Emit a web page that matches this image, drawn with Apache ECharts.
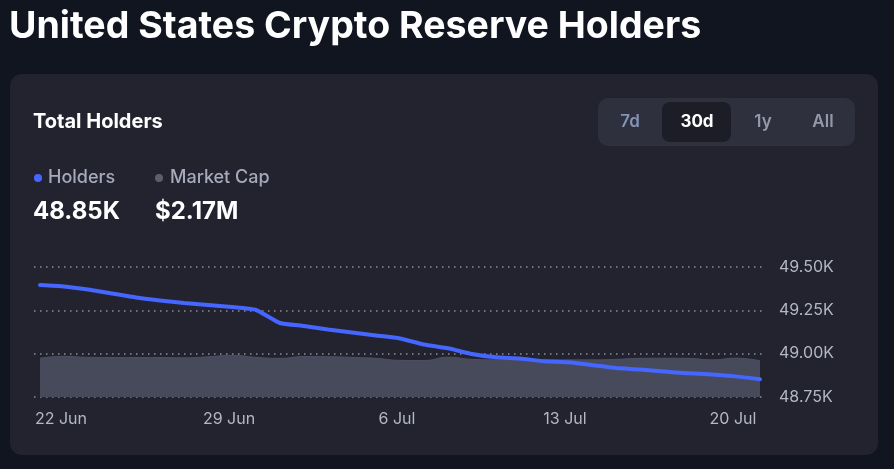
<!DOCTYPE html>
<html>
<head>
<meta charset="utf-8">
<script src="https://cdn.jsdelivr.net/npm/echarts@6/dist/echarts.min.js"></script>
<style>
  html, body { margin: 0; padding: 0; background: #11151f; }
  #myChart { width: 894px; height: 469px; }
</style>
</head>
<body>
<div id="myChart"></div>
<script>
// daily points, 21 Jun 2025 -> 21 Jul 2025
const startDay = [2025, 5, 21];
const dayCount = 31;
const holders = [49396, 49388, 49370, 49347, 49324, 49307, 49292, 49281, 49269, 49252,
  49177, 49160, 49139, 49122, 49105, 49088, 49053, 49031, 48998, 48979,
  48972, 48956, 48950, 48935, 48917, 48909, 48897, 48887, 48880, 48869, 48852];
// market cap in $M
const marketCap = [2.32, 2.43, 2.37, 2.36, 2.36, 2.36, 2.34, 2.40, 2.49, 2.37,
  2.31, 2.42, 2.41, 2.37, 2.31, 2.19, 2.18, 2.38, 2.25, 2.22,
  2.22, 2.22, 2.22, 2.22, 2.25, 2.31, 2.32, 2.31, 2.22, 2.32, 2.17];
const tickDays = [[2025, 5, 22], [2025, 5, 29], [2025, 6, 6], [2025, 6, 13], [2025, 6, 20]];
const months = ['Jan', 'Feb', 'Mar', 'Apr', 'May', 'Jun', 'Jul', 'Aug', 'Sep', 'Oct', 'Nov', 'Dec'];
const ranges = ['7d', '30d', '1y', 'All'];

const dates = [];
for (let i = 0; i < dayCount; i++) {
  dates.push(new Date(startDay[0], startDay[1], startDay[2] + i, 3).getTime());
}
const tickValues = tickDays.map(d => new Date(d[0], d[1], d[2]).getTime());
const hour = 3600 * 1000;

const myChart = echarts.init(document.getElementById('myChart'));
const font = 'Inter';

const lastHolders = (holders[holders.length - 1] / 1000).toFixed(2) + 'K';
const lastCap = '$' + marketCap[marketCap.length - 1].toFixed(2) + 'M';

const rangeX = [630, 697, 763, 823];
const rangeEls = ranges.map((r, i) => ({
  type: 'text',
  z: 12,
  style: {
    text: r,
    x: rangeX[i],
    y: 122,
    align: 'center',
    verticalAlign: 'middle',
    font: (r === '30d' ? '700' : '600') + ' 17px ' + font,
    fill: r === '30d' ? '#ffffff' : (r === '7d' ? '#8591b5' : '#9598aa')
  }
}));

myChart.setOption({
  backgroundColor: '#11151f',
  animation: false,
  graphic: [
    {
      type: 'text',
      style: {
        text: 'United States Crypto Reserve Holders',
        x: 9, y: 27,
        verticalAlign: 'middle',
        font: '700 37.5px ' + font,
        fill: '#ffffff'
      }
    },
    {
      type: 'rect',
      z: -10,
      shape: { x: 10, y: 74, width: 868, height: 381, r: 12 },
      style: { fill: '#22232f' }
    },
    {
      type: 'text',
      style: {
        text: 'Total Holders', x: 33, y: 122,
        verticalAlign: 'middle', font: '700 20px ' + font, fill: '#ffffff'
      }
    },
    {
      type: 'rect', z: 10,
      shape: { x: 598, y: 98, width: 257, height: 48, r: 10 },
      style: { fill: '#2e303e' }
    },
    {
      type: 'rect', z: 11,
      shape: { x: 662, y: 102, width: 69, height: 40, r: 8 },
      style: { fill: '#1c1d27' }
    },
    ...rangeEls,
    {
      type: 'circle',
      shape: { cx: 38, cy: 178, r: 4 },
      style: { fill: '#4566ff' }
    },
    {
      type: 'text',
      style: {
        text: 'Holders', x: 48, y: 178,
        verticalAlign: 'middle', font: '500 18px ' + font, fill: '#a6aabb'
      }
    },
    {
      type: 'circle',
      shape: { cx: 159, cy: 178, r: 4 },
      style: { fill: '#5b5e6c' }
    },
    {
      type: 'text',
      style: {
        text: 'Market Cap', x: 170, y: 178,
        verticalAlign: 'middle', font: '500 18px ' + font, fill: '#a6aabb'
      }
    },
    {
      type: 'text',
      style: {
        text: lastHolders, x: 33, y: 212,
        verticalAlign: 'middle', font: '700 24px ' + font, fill: '#ffffff'
      }
    },
    {
      type: 'text',
      style: {
        text: lastCap, x: 155, y: 212,
        verticalAlign: 'middle', font: '700 24px ' + font, fill: '#ffffff'
      }
    }
  ],
  grid: { left: 34, right: 130, top: 267, bottom: 72 },
  xAxis: {
    type: 'value',
    min: dates[0] - 6 * hour,
    max: dates[dates.length - 1] + 4 * hour,
    axisLine: { show: false },
    axisTick: { show: false },
    splitLine: { show: false },
    axisLabel: {
      customValues: tickValues,
      color: '#b4b7c4',
      fontFamily: font,
      fontSize: 16,
      margin: 14,
      formatter: v => {
        const d = new Date(v);
        return d.getDate() + ' ' + months[d.getMonth()];
      }
    }
  },
  yAxis: [
    {
      type: 'value',
      position: 'right',
      min: 48750,
      max: 49500,
      interval: 250,
      axisLine: { show: false },
      axisTick: { show: false },
      axisLabel: {
        color: '#b4b7c4',
        fontFamily: font,
        fontSize: 16,
        margin: 15,
        formatter: v => (v / 1000).toFixed(2) + 'K'
      },
      splitLine: {
        lineStyle: { color: '#8a8d99', width: 1.5, type: [1.5, 4.5] }
      }
    },
    {
      type: 'value',
      min: 0,
      max: 7.77,
      show: false,
      splitLine: { show: false }
    }
  ],
  series: [
    {
      name: 'Market Cap',
      type: 'line',
      yAxisIndex: 1,
      data: dates.map((d, i) => [d, marketCap[i]]),
      smooth: true,
      symbol: 'none',
      lineStyle: { width: 1, color: '#4c5062' },
      areaStyle: { color: '#464a5b', opacity: 1 },
      z: 2
    },
    {
      name: 'Holders',
      type: 'line',
      yAxisIndex: 0,
      data: dates.map((d, i) => [d, holders[i]]),
      smooth: 0.15,
      symbol: 'none',
      lineStyle: { width: 4, color: '#4566ff', cap: 'round', join: 'round' },
      z: 3
    }
  ]
});
</script>
</body>
</html>
